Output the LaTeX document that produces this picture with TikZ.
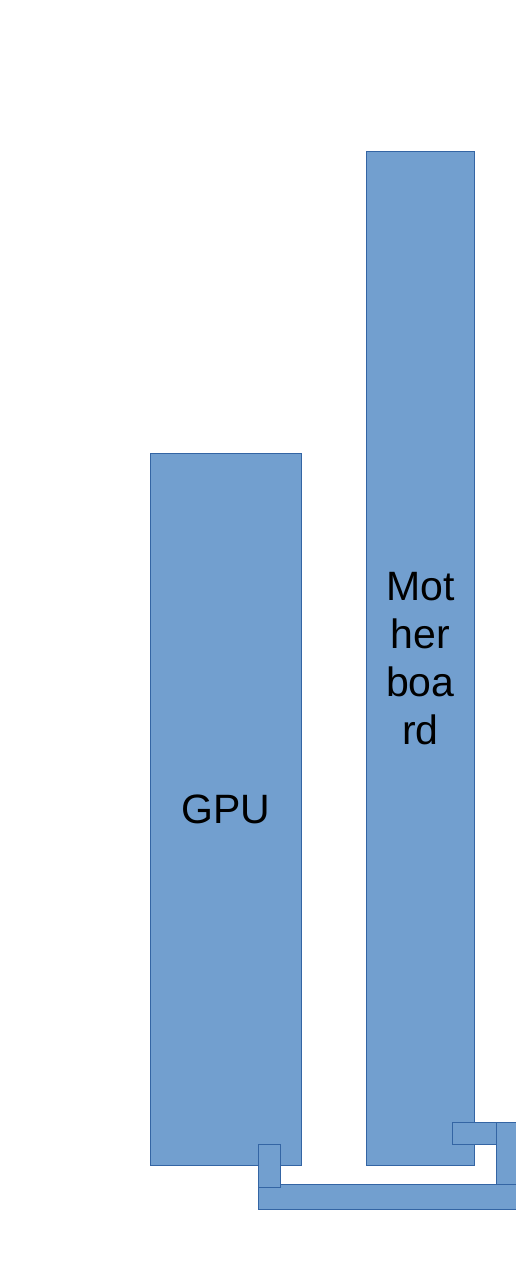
\documentclass[tikz,border=0pt]{standalone}
\usepackage{fontspec}
\setmainfont{Liberation Sans}
\definecolor{boxfill}{HTML}{729FCF}
\definecolor{boxline}{HTML}{3465A4}
\tikzset{
  part/.style={fill=boxfill, draw=boxline, line width=0.8pt},
  board/.style={part, inner sep=0pt, font=\fontsize{41}{48}\selectfont, align=center, text=black}
}
\begin{document}
\begin{tikzpicture}[x=1pt, y=-1pt]
\useasboundingbox (0,0) rectangle (516,1263);
\clip (0,0) rectangle (516,1263);
\node[board, minimum width=151.5pt, minimum height=712.5pt] (gpu) at (225.75,809.25) {GPU};
\node[board, minimum width=108.5pt, minimum height=1014.5pt] (mb) at (420.25,658.25) {Mot\\her\\boa\\rd};
% connectors
\filldraw[part] (452.3,1122.3) rectangle (496,1144);
\filldraw[part] (496,1122.3) rectangle (540,1209.3);
\filldraw[part] (258.3,1184) rectangle (540,1209.3);
\filldraw[part] (258.3,1144) rectangle (280.3,1187.3);
\end{tikzpicture}
\end{document}
